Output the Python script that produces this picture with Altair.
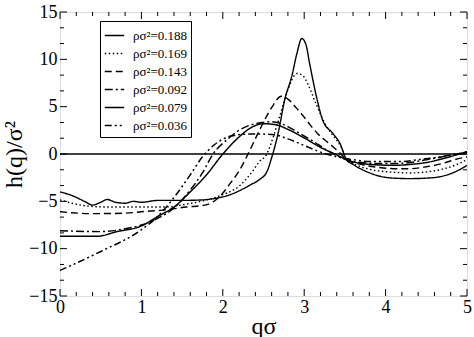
import altair as alt
import pandas as pd

# ---- data ----
labels = ["ρσ²=0.188", "ρσ²=0.169", "ρσ²=0.143", "ρσ²=0.092", "ρσ²=0.079", "ρσ²=0.036"]

x_188 = [0, 0.15, 0.3, 0.4, 0.5, 0.58, 0.68, 0.8, 0.9, 1.0, 1.2, 1.5, 1.72, 1.9, 2.09, 2.2, 2.33, 2.45,
         2.54, 2.6, 2.68, 2.76, 2.85, 2.91, 2.97, 3.02, 3.07, 3.16, 3.23, 3.35, 3.44, 3.52, 3.6, 3.75,
         3.93, 4.1, 4.3, 4.5, 4.67, 4.85, 5.0]
y_188 = [-4.0, -4.4, -5.0, -5.4, -5.1, -4.8, -5.1, -5.2, -5.0, -5.1, -4.9, -4.9, -4.86, -4.7, -4.3, -3.9,
         -3.3, -2.7, -1.9, -0.4, 2.2, 5.7, 8.3, 10.6, 12.2, 11.6, 9.4, 5.7, 3.5, 2.2, 1.1, -0.6, -1.1,
         -1.8, -2.35, -2.55, -2.6, -2.55, -2.4, -1.9, -1.2]

x_169 = [0, 0.34, 0.6, 1.0, 1.3, 1.55, 1.78, 2.0, 2.2, 2.35, 2.45, 2.54, 2.62, 2.7, 2.8, 2.91, 2.98,
         3.05, 3.15, 3.25, 3.35, 3.45, 3.52, 3.65, 3.85, 4.05, 4.3, 4.5, 4.7, 4.85, 5.0]
y_169 = [-4.85, -5.5, -5.6, -5.6, -5.6, -5.3, -4.9, -4.3, -3.4, -2.0, -0.8, 0.0, 1.8, 4.0, 6.8, 8.5,
         8.3, 7.3, 5.2, 3.3, 2.0, 0.8, -0.6, -1.2, -1.7, -1.9, -2.0, -1.9, -1.6, -1.2, -0.6]

x_143 = [0, 0.4, 0.8, 1.0, 1.3, 1.55, 1.78, 1.95, 2.1, 2.2, 2.31, 2.45, 2.6, 2.72, 2.8, 2.9, 2.99,
         3.08, 3.16, 3.25, 3.35, 3.44, 3.52, 3.7, 3.9, 4.1, 4.3, 4.5, 4.7, 4.85, 5.0]
y_143 = [-6.1, -6.3, -6.25, -6.1, -5.9, -5.6, -5.4, -4.6, -3.0, -1.8, 0.0, 2.5, 4.9, 6.1, 5.8, 4.9,
         4.0, 3.0, 2.2, 1.5, 0.8, 0.1, -0.6, -1.1, -1.4, -1.55, -1.55, -1.35, -1.0, -0.6, -0.3]

x_092 = [0, 0.5, 0.8, 1.0, 1.2, 1.4, 1.6, 1.75, 1.88, 2.05, 2.2, 2.4, 2.6, 2.75, 2.9, 3.1, 3.3,
         3.52, 3.7, 3.9, 4.1, 4.3, 4.5, 4.7, 5.0]
y_092 = [-8.1, -8.2, -7.9, -7.5, -6.8, -5.7, -3.8, -2.0, 0.0, 1.5, 2.5, 3.2, 3.4, 3.1, 2.4, 1.4, 0.3,
         -0.6, -0.9, -1.0, -1.0, -0.9, -0.6, -0.3, 0.2]

x_079 = [0, 0.45, 0.7, 1.0, 1.2, 1.4, 1.6, 1.8, 2.0, 2.2, 2.35, 2.5, 2.65, 2.8, 3.0, 3.2, 3.4, 3.52,
         3.7, 3.9, 4.1, 4.3, 4.5, 4.7, 5.0]
y_079 = [-8.7, -8.7, -8.2, -7.6, -6.6, -5.6, -4.0, -2.2, 0.0, 1.8, 2.8, 3.2, 3.1, 2.6, 1.7, 0.7, -0.1,
         -0.6, -1.0, -1.15, -1.2, -1.1, -0.9, -0.5, 0.25]

x_036 = [0, 0.5, 1.0, 1.2, 1.4, 1.6, 1.75, 1.9, 2.1, 2.3, 2.5, 2.65, 2.8, 3.0, 3.2, 3.4, 3.6, 3.8,
         4.0, 4.2, 4.4, 4.6, 4.8, 5.0]
y_036 = [-12.3, -10.3, -8.0, -6.6, -4.6, -2.2, -0.3, 1.0, 1.9, 2.1, 2.1, 2.0, 1.6, 0.9, 0.2, -0.3,
         -0.6, -0.8, -0.8, -0.8, -0.6, -0.4, -0.1, 0.2]

x_major = [0, 1, 2, 3, 4, 5]
x_minor = [0.2, 0.4, 0.6, 0.8, 1.2, 1.4, 1.6, 1.8, 2.2, 2.4, 2.6, 2.8, 3.2, 3.4, 3.6, 3.8,
           4.2, 4.4, 4.6, 4.8]
y_major = [-15, -10, -5, 0, 5, 10, 15]
y_minor = [-13.333, -11.667, -8.333, -6.667, -3.333, -1.667, 1.667, 3.333, 6.667, 8.333,
           11.667, 13.333]
zero_line = [0]

# ---- styles ----
dashes = [[1, 0], [1.5, 2.5], [7, 4], [8, 3, 2, 3], [1, 0], [7, 3, 2, 3, 2, 3]]
widths = [1.4, 1.5, 1.5, 1.5, 2.8, 1.5]
FONT = "Liberation Serif, Times New Roman, Times, serif"
W, H = 407, 284

rows = []
for lab, xs, ys in zip(labels, [x_188, x_169, x_143, x_092, x_079, x_036],
                       [y_188, y_169, y_143, y_092, y_079, y_036]):
    for i, (a, b) in enumerate(zip(xs, ys)):
        rows.append({"series": lab, "q": a, "h": b, "order": i})
df = pd.DataFrame(rows)

xsc = alt.Scale(domain=[0, 5], nice=False, zero=False)
ysc = alt.Scale(domain=[-15, 15], nice=False, zero=False)

x_axis = alt.Axis(
    values=x_major, title="qσ", ticks=False, domain=False, grid=False,
    labelFont=FONT, labelFontSize=18, labelColor="black", labelPadding=2,
    titleFont=FONT, titleFontSize=24, titleFontWeight="normal", titleColor="black",
    titlePadding=-2, labelFlush=False)
y_axis = alt.Axis(
    values=y_major, title="h(q)/σ²", ticks=False, domain=False, grid=False,
    labelFont=FONT, labelFontSize=18, labelColor="black", labelPadding=3,
    titleFont=FONT, titleFontSize=24, titleFontWeight="normal", titleColor="black",
    titlePadding=2, labelFlush=False)

legend = alt.Legend(
    title=None, orient="none", legendX=40, legendY=9,
    strokeColor="black", fillColor="white", padding=4,
    symbolType="stroke", symbolSize=380, symbolStrokeColor="black",
    labelFont=FONT, labelFontSize=13, labelColor="black", labelOffset=8,
    rowPadding=0,
)

lines = alt.Chart(df).mark_line(interpolate="monotone", color="black").encode(
    x=alt.X("q:Q", scale=xsc, axis=x_axis, title="qσ"),
    y=alt.Y("h:Q", scale=ysc, axis=y_axis, title="h(q)/σ²"),
    strokeDash=alt.StrokeDash("series:N", scale=alt.Scale(domain=labels, range=dashes), legend=legend),
    strokeWidth=alt.StrokeWidth("series:N", scale=alt.Scale(domain=labels, range=widths), legend=legend),
    order="order:Q",
)

zero = alt.Chart(pd.DataFrame({"z": zero_line})).mark_rule(color="black", strokeWidth=1.3).encode(
    y=alt.Y("z:Q", scale=ysc, axis=y_axis, title="h(q)/σ²")
)


def xticks(vals, length):
    d = pd.DataFrame({"t": vals})
    bottom = alt.Chart(d).mark_rule(color="black", strokeWidth=1).encode(
        x=alt.X("t:Q", scale=xsc, axis=x_axis, title="qσ"), y=alt.value(H), y2=alt.value(H - length))
    top = alt.Chart(d).mark_rule(color="black", strokeWidth=1).encode(
        x=alt.X("t:Q", scale=xsc, axis=x_axis, title="qσ"), y=alt.value(0), y2=alt.value(length))
    return [bottom, top]


def yticks(vals, length):
    d = pd.DataFrame({"t": vals})
    left = alt.Chart(d).mark_rule(color="black", strokeWidth=1).encode(
        y=alt.Y("t:Q", scale=ysc, axis=y_axis, title="h(q)/σ²"), x=alt.value(0), x2=alt.value(length))
    right = alt.Chart(d).mark_rule(color="black", strokeWidth=1).encode(
        y=alt.Y("t:Q", scale=ysc, axis=y_axis, title="h(q)/σ²"), x=alt.value(W), x2=alt.value(W - length))
    return [left, right]


tick_layers = xticks(x_major, 7) + xticks(x_minor, 4) + yticks(y_major, 7) + yticks(y_minor, 4)

chart = alt.layer(lines, zero, *tick_layers).properties(
    width=W, height=H,
    autosize=alt.AutoSizeParams(type="none"),
    padding={"left": 60, "top": 12, "right": 7, "bottom": 41},
).configure_view(stroke="black", strokeWidth=2).configure(background="white")

chart.save("out.html", embed_options={"renderer": "svg", "actions": False})
